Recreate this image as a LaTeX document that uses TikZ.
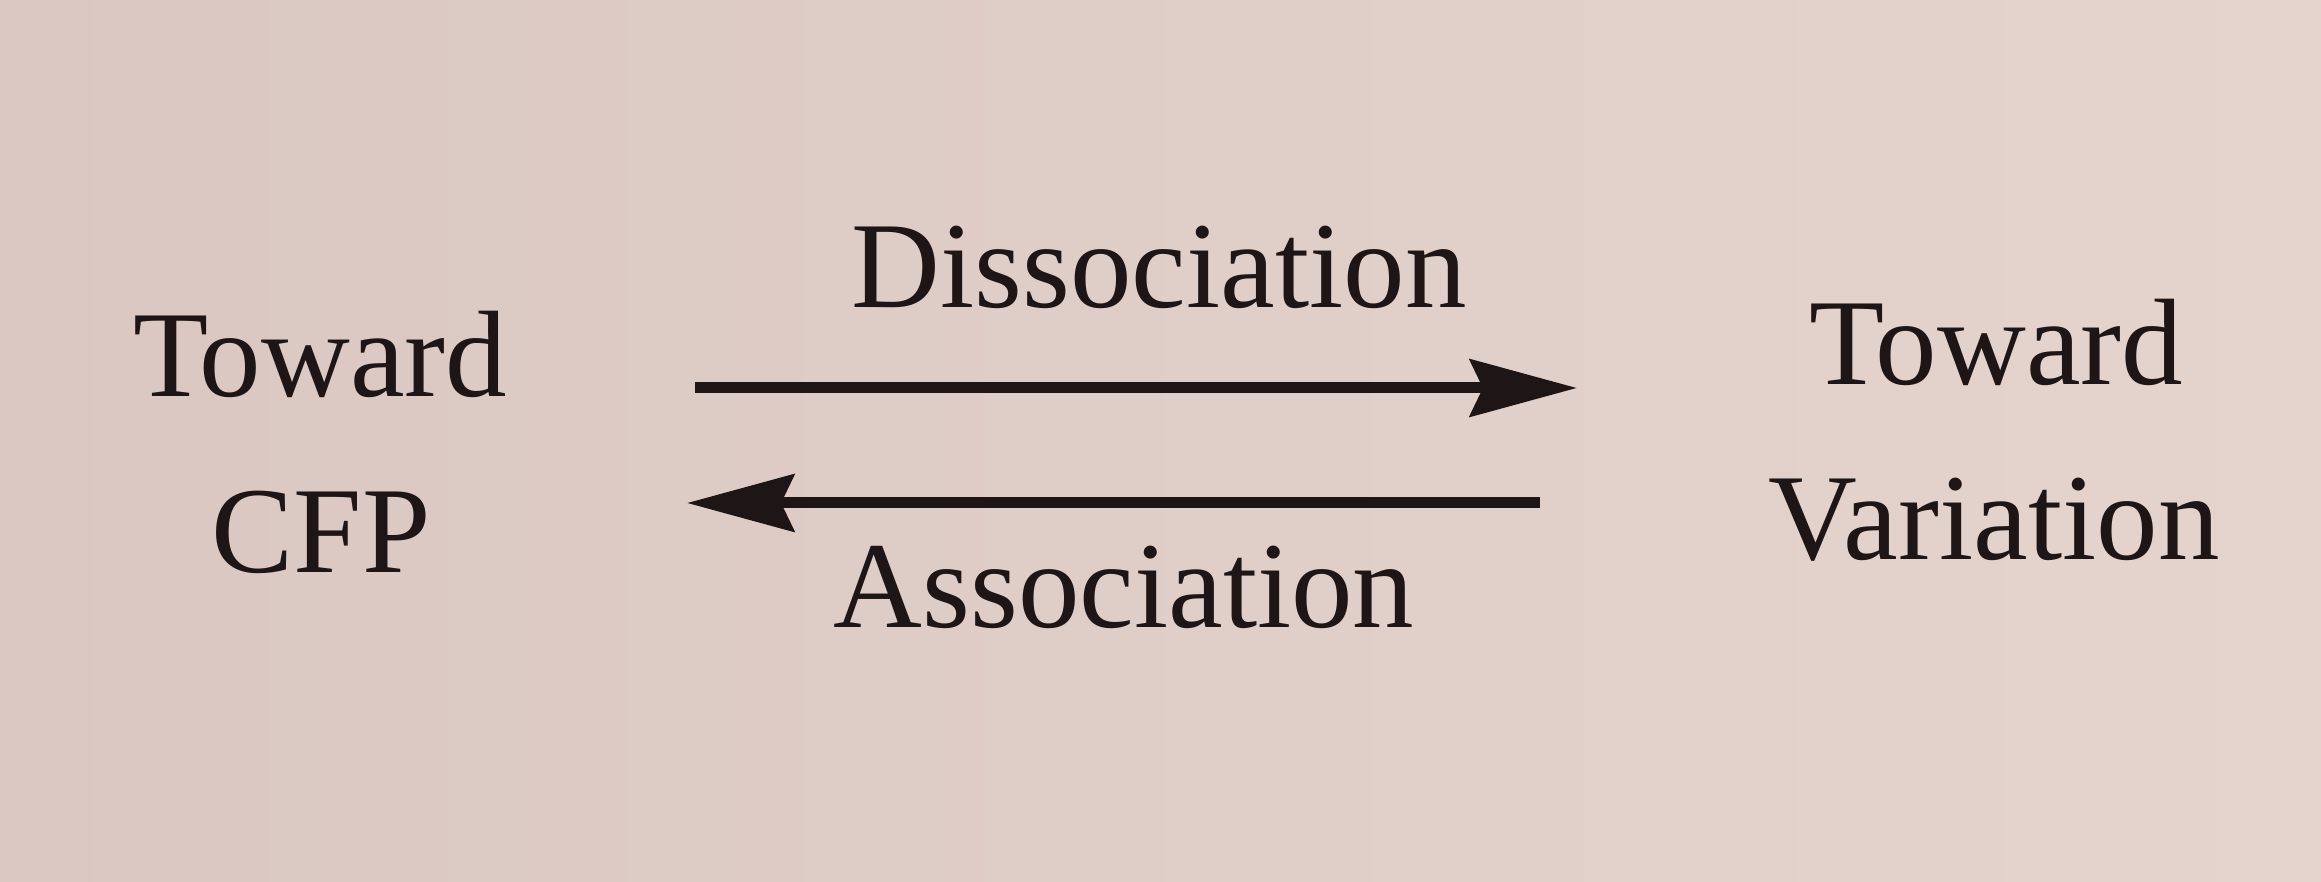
\documentclass[tikz,border=0pt]{standalone}
\usepackage{fontspec}
\setmainfont{Liberation Serif}
\usetikzlibrary{arrows.meta}
\definecolor{paper}{RGB}{224,206,200}
\definecolor{paperL}{RGB}{218,199,194}
\definecolor{paperR}{RGB}{229,212,206}
\definecolor{ink}{RGB}{30,22,22}
\begin{document}
\begin{tikzpicture}[x=1pt,y=1pt,
  lbl/.style={anchor=base,inner sep=0pt,outer sep=0pt,text=ink,
    font=\fontsize{123}{148}\selectfont},
  flow/.style={draw=ink,line width=11pt,
    -{Stealth[length=107pt,width=57pt,inset=13pt]}}]
\useasboundingbox (0,0) rectangle (2321,882);
\shade[left color=paperL,right color=paperR] (0,0) rectangle (2321,882);
% side labels
\node[lbl] (tl) at (320,485) {Toward};
\node[lbl] (cfp) at (321,309) {CFP};
\node[lbl] (tr) at (1996,497) {Toward};
\node[lbl] (var) at (1994,322) {Variation};
% arrow labels
\node[lbl] (dis) at (1159,574) {Dissociation};
\node[lbl] (ass) at (1124,254) {Association};
% arrow ends
\coordinate (d0) at (695,494);
\coordinate (d1) at (1577,494);
\coordinate (a0) at (1540,379);
\coordinate (a1) at (687,379);
\draw[flow] (d0) -- (d1);
\draw[flow] (a0) -- (a1);
\end{tikzpicture}
\end{document}
